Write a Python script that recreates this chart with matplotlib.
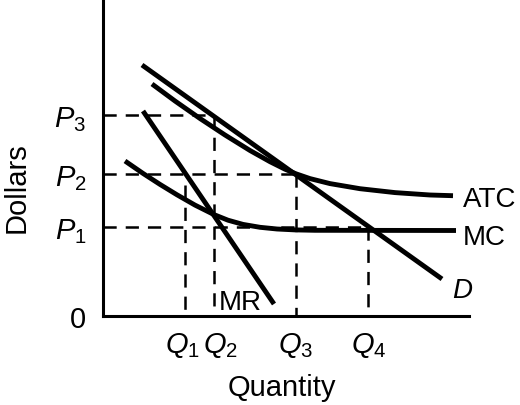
import matplotlib
matplotlib.use("Agg")
import matplotlib.pyplot as plt
import matplotlib.transforms as mtransforms

plt.rcParams['font.family'] = ['Liberation Sans', 'DejaVu Sans']
plt.rcParams['mathtext.fontset'] = 'custom'
plt.rcParams['mathtext.rm'] = 'Liberation Sans'
plt.rcParams['mathtext.it'] = 'Liberation Sans:italic'
plt.rcParams['lines.scale_dashes'] = False

# (quantity, dollars)
q_levels = [8.2, 11.1, 19.3, 26.5]
q_labels = ['$Q_1$', '$Q_2$', '$Q_3$', '$Q_4$']
p_levels = [8.9, 14.2, 20.1]
p_labels = ['$P_1$', '$P_2$', '$P_3$']
q1_top = 13.1

demand_q = [3.9, 33.9]
demand_p = [25.1, 3.7]

mr_q = [4.0, 17.1]
mr_p = [20.5, 1.2]

atc_q = [4.9, 7.2, 9.7, 12.2, 14.7, 16.7, 18.2, 19.3, 20.7, 22.7, 25.7, 29.2, 32.7, 35.0]
atc_p = [23.2, 21.5, 19.75, 18.1, 16.55, 15.43, 14.68, 14.22, 13.74, 13.24, 12.73, 12.34, 12.1, 12.03]

mc_q = [2.2, 4.0, 5.7, 7.4, 9.2, 11.1, 12.5, 14.0, 15.7, 17.4, 19.2, 21.2, 35.3]
mc_p = [15.5, 14.26, 13.16, 12.12, 11.09, 10.14, 9.58, 9.16, 8.87, 8.7, 8.61, 8.57, 8.55]

fig = plt.figure(figsize=(5.2, 4.06), dpi=100)
ax = fig.add_axes([103 / 520, 89 / 406, 366 / 520, 317 / 406])
ax.set_xlim(0, 36.6)
ax.set_ylim(0, 31.7)

dash = dict(color='black', lw=1.8, linestyle=(0, (9.5, 6.5)), zorder=1)
# price guides: P1 -> Q4, P2 -> Q3, P3 -> Q2
for p, q in zip(p_levels, [q_levels[3], q_levels[2], q_levels[1]]):
    ax.plot([0, q], [p, p], **dash)
    ax.plot([q, q], [p, 0], **dash)
ax.plot([q_levels[0], q_levels[0]], [q1_top, 0], **dash)

curve = dict(color='black', lw=3.5, solid_capstyle='butt', solid_joinstyle='round', zorder=3)
ax.plot(demand_q, demand_p, **curve)
ax.plot(mr_q, mr_p, **curve)
ax.plot(atc_q, atc_p, **curve)
ax.plot(mc_q, mc_p, **curve)

fs = 20
ax.text(36.0, 11.7, 'ATC', fontsize=fs, ha='left', va='center', clip_on=False)
ax.text(36.0, 7.9, 'MC', fontsize=fs, ha='left', va='center', clip_on=False)
ax.text(34.9, 2.6, '$D$', fontsize=fs, ha='left', va='center', clip_on=False)
ax.text(13.7, 1.4, 'MR', fontsize=fs, ha='center', va='center')

ax.set_xticks(q_levels)
ax.set_xticklabels(q_labels, fontsize=fs + 1)
ax.set_yticks([0] + p_levels)
ax.set_yticklabels(['0'] + p_labels, fontsize=fs + 1)
ax.tick_params(axis='both', length=0)
ax.tick_params(axis='x', pad=10)
ax.tick_params(axis='y', pad=12)

# spread Q1 and Q2 apart a little, as in the original
for lab, dx in zip(ax.get_xticklabels(), [-3, 6, 0, 1]):
    lab.set_transform(lab.get_transform() + mtransforms.ScaledTranslation(dx / 100, 0, fig.dpi_scale_trans))

ax.set_xlabel('Quantity', fontsize=fs + 1, va='center')
ax.xaxis.set_label_coords(0.489, -0.225)
ax.set_ylabel('Dollars', fontsize=fs + 1, va='center')
ax.yaxis.set_label_coords(-0.235, 0.407)

for s in ['top', 'right']:
    ax.spines[s].set_visible(False)
for s in ['left', 'bottom']:
    ax.spines[s].set_linewidth(2.2)

fig.savefig('out.png', dpi=100)
